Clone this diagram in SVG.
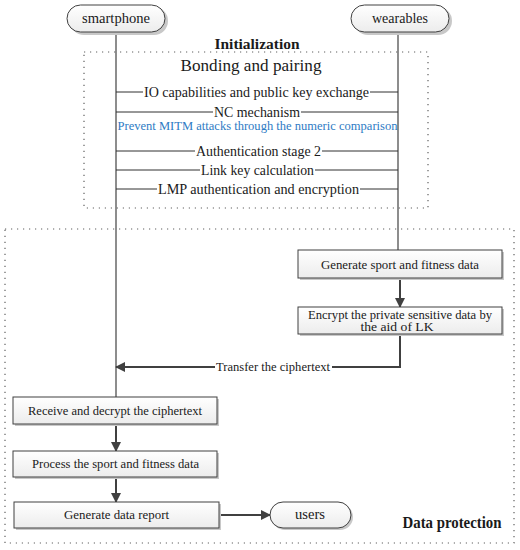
<svg xmlns="http://www.w3.org/2000/svg" width="520" height="550" viewBox="0 0 520 550">
<defs>
<linearGradient id="g" x1="0" y1="0" x2="0" y2="1">
<stop offset="0" stop-color="#ffffff"/>
<stop offset="1" stop-color="#ececec"/>
</linearGradient>
<marker id="ah" markerWidth="10" markerHeight="10" refX="9" refY="5" orient="auto" markerUnits="userSpaceOnUse">
<path d="M0,0 L10,5 L0,10 z" fill="#404040"/>
</marker>
</defs>
<style>
text{font-family:"Liberation Serif","Times New Roman",serif;fill:#1a1a1a}
.lbl{font-size:14px;text-anchor:middle}
.box{font-size:12.5px;text-anchor:middle}
.pill{fill:url(#g);stroke:#404040;stroke-width:1}
.rect{fill:url(#g);stroke:#404040;stroke-width:1}
.sh{fill:#c8c8c8}
.life{stroke:#505050;stroke-width:1.3;fill:none}
.msg{stroke:#303030;stroke-width:1;fill:none}
.flow{stroke:#404040;stroke-width:2;fill:none}
.dot{fill:none;stroke:#606060;stroke-width:1.2;stroke-dasharray:1.2 4.8}
.bold{font-weight:bold;text-anchor:middle}
</style>

<g id="frames">
<rect class="dot" x="84" y="52" width="344" height="156"/>
<rect class="dot" x="5" y="229" width="509" height="314"/>
<text class="bold" x="257" y="49" font-size="15" textLength="85" lengthAdjust="spacingAndGlyphs">Initialization</text>
<text x="251" y="71" font-size="17" text-anchor="middle" textLength="141" lengthAdjust="spacingAndGlyphs">Bonding and pairing</text>
<text class="bold" x="452" y="528" font-size="16" textLength="99" lengthAdjust="spacingAndGlyphs">Data protection</text>
</g>

<g id="connectors">
<line class="life" x1="116" y1="33" x2="116" y2="397"/>
<line class="life" x1="398" y1="33" x2="398" y2="250"/>
<line class="msg" x1="116" y1="92" x2="143" y2="92"/>
<line class="msg" x1="370" y1="92" x2="398" y2="92"/>
<line class="msg" x1="116" y1="112" x2="213" y2="112"/>
<line class="msg" x1="301" y1="112" x2="398" y2="112"/>
<line class="msg" x1="116" y1="151" x2="195" y2="151"/>
<line class="msg" x1="322" y1="151" x2="398" y2="151"/>
<line class="msg" x1="116" y1="170" x2="200" y2="170"/>
<line class="msg" x1="315" y1="170" x2="398" y2="170"/>
<line class="msg" x1="116" y1="189" x2="157" y2="189"/>
<line class="msg" x1="360" y1="189" x2="398" y2="189"/>
<line class="flow" x1="400" y1="278" x2="400" y2="307" marker-end="url(#ah)"/>
<polyline class="flow" points="400,334 400,367 332,367"/>
<line class="flow" x1="215" y1="367" x2="116" y2="367" marker-end="url(#ah)"/>
<line class="flow" x1="116" y1="424" x2="116" y2="451" marker-end="url(#ah)"/>
<line class="flow" x1="116" y1="477" x2="116" y2="502" marker-end="url(#ah)"/>
<line class="flow" x1="219" y1="515" x2="270" y2="515" marker-end="url(#ah)"/>
<text class="lbl" x="256.5" y="96.5" textLength="225" lengthAdjust="spacingAndGlyphs">IO capabilities and public key exchange</text>
<text class="lbl" x="257" y="116.5" textLength="86" lengthAdjust="spacingAndGlyphs">NC mechanism</text>
<text x="257.5" y="130" font-size="12.5" text-anchor="middle" style="fill:#2e7bc4" textLength="280" lengthAdjust="spacingAndGlyphs">Prevent MITM attacks through the numeric comparison</text>
<text class="lbl" x="258.5" y="155.5" textLength="125" lengthAdjust="spacingAndGlyphs">Authentication stage 2</text>
<text class="lbl" x="257.5" y="174.5" textLength="113" lengthAdjust="spacingAndGlyphs">Link key calculation</text>
<text class="lbl" x="258.5" y="193.5" textLength="201" lengthAdjust="spacingAndGlyphs">LMP authentication and encryption</text>
<text x="273" y="371" font-size="12.5" text-anchor="middle" textLength="114" lengthAdjust="spacingAndGlyphs">Transfer the ciphertext</text>
</g>

<g id="smartphone">
<rect class="sh" x="70" y="7" width="98" height="28" rx="14"/>
<rect class="pill" x="67" y="5" width="98" height="27" rx="13.5"/>
<text class="lbl" x="116" y="23" font-size="13" textLength="68" lengthAdjust="spacingAndGlyphs">smartphone</text>
</g>

<g id="wearables">
<rect class="sh" x="354" y="7" width="98" height="28" rx="14"/>
<rect class="pill" x="351" y="5" width="98" height="27" rx="13.5"/>
<text class="lbl" x="400" y="23" font-size="13" textLength="56" lengthAdjust="spacingAndGlyphs">wearables</text>
</g>

<g id="generate-sport">
<rect class="sh" x="300" y="252" width="204" height="28"/>
<rect class="rect" x="298" y="250" width="204" height="28"/>
<text class="box" x="400" y="268.5" textLength="158" lengthAdjust="spacingAndGlyphs">Generate sport and fitness data</text>
</g>

<g id="encrypt">
<rect class="sh" x="300" y="309" width="204" height="27"/>
<rect class="rect" x="298" y="307" width="204" height="27"/>
<text class="box" x="400" y="318.5" font-size="11.5" textLength="184" lengthAdjust="spacingAndGlyphs">Encrypt the private sensitive data by</text>
<text class="box" x="397" y="331" font-size="11.5" textLength="73" lengthAdjust="spacingAndGlyphs">the aid of LK</text>
</g>

<g id="receive">
<rect class="sh" x="15" y="399" width="204" height="27"/>
<rect class="rect" x="13" y="397" width="204" height="27"/>
<text class="box" x="115" y="415" textLength="174" lengthAdjust="spacingAndGlyphs">Receive and decrypt the ciphertext</text>
</g>

<g id="process">
<rect class="sh" x="15" y="453" width="204" height="26"/>
<rect class="rect" x="13" y="451" width="204" height="26"/>
<text class="box" x="115.5" y="468" textLength="167" lengthAdjust="spacingAndGlyphs">Process the sport and fitness data</text>
</g>

<g id="report">
<rect class="sh" x="16" y="504" width="205" height="26"/>
<rect class="rect" x="14" y="502" width="205" height="26"/>
<text class="box" x="116.5" y="519" textLength="105" lengthAdjust="spacingAndGlyphs">Generate data report</text>
</g>

<g id="users">
<rect class="sh" x="272" y="504" width="81" height="26" rx="13"/>
<rect class="pill" x="270" y="502" width="81" height="26" rx="13"/>
<text class="lbl" x="310" y="519" font-size="13" textLength="30" lengthAdjust="spacingAndGlyphs">users</text>
</g>
</svg>
